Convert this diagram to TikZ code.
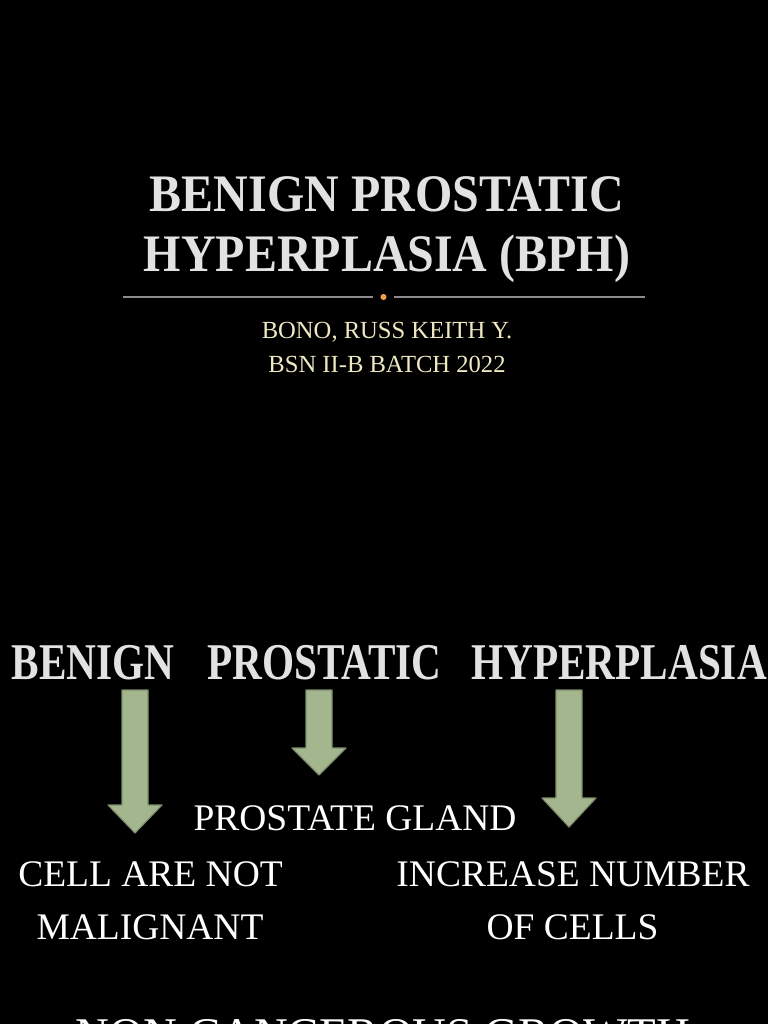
\documentclass[tikz,border=0pt]{standalone}
\usepackage{fontspec}
\setmainfont{Liberation Serif}
\newfontfamily\titlefont[FakeStretch=0.91]{Liberation Serif}
\newfontfamily\wordfont[FakeStretch=0.8]{Liberation Serif}
\definecolor{titlegray}{HTML}{E2E2E2}
\definecolor{namecream}{HTML}{EEE9C2}
\definecolor{rulegray}{HTML}{8C8C8C}
\definecolor{dotorange}{HTML}{F0A04A}
\definecolor{arrowgreen}{HTML}{A3B68E}
\definecolor{arrowedge}{HTML}{7C8E6C}
\tikzset{
  titletext/.style={anchor=base,inner sep=0pt,text=titlegray,
    font=\titlefont\bfseries\fontsize{45}{54}\selectfont},
  authortext/.style={anchor=base,inner sep=0pt,text=namecream,
    font=\fontsize{21}{25}\selectfont},
  wordtext/.style={anchor=base,inner sep=0pt,text=titlegray,
    font=\wordfont\bfseries\fontsize{44}{52}\selectfont},
  meaningtext/.style={anchor=base,inner sep=0pt,text=white,
    font=\fontsize{32}{38}\selectfont},
  bigarrow/.style={fill=arrowgreen,draw=arrowedge,line width=1pt,line join=round}
}
\begin{document}
\begin{tikzpicture}[x=0.03cm,y=-0.03cm]
    \clip (0,0) rectangle (768,1024);
    \fill[black] (0,0) rectangle (768,1024);

    % title block
    \node[titletext] (titleA) at (387,211) {BENIGN PROSTATIC};
    \node[titletext] (titleB) at (387,271) {HYPERPLASIA (BPH)};
    \draw[rulegray,line width=1pt] (123,297) -- (373,297);
    \draw[rulegray,line width=1pt] (394,297) -- (645,297);
    \fill[dotorange] (383.5,297) circle[radius=2.6pt];
    \node[authortext] (author) at (387,338) {BONO, RUSS KEITH Y.};
    \node[authortext] (batch) at (387,372) {BSN II-B BATCH 2022};

    % the three words
    \node[wordtext] (benign) at (93,679) {BENIGN};
    \node[wordtext] (prostatic) at (324.5,679) {PROSTATIC};
    \node[wordtext] (hyper) at (619,679) {HYPERPLASIA};

    % arrows: centre / head start / tip
    \foreach \cx/\hs/\tip in {135/805/833, 319/748/775, 569/798/827}
      \filldraw[bigarrow] ({\cx-13},690) -- ({\cx+13},690) -- ({\cx+13},\hs)
        -- ({\cx+27},\hs) -- (\cx,\tip) -- ({\cx-27},\hs) -- ({\cx-13},\hs) -- cycle;

    \node[meaningtext] (gland) at (355,830) {PROSTATE GLAND};
    \node[meaningtext] (notA) at (150.5,886) {CELL ARE NOT};
    \node[meaningtext] (notB) at (150,939) {MALIGNANT};
    \node[meaningtext] (cellsA) at (573,886) {INCREASE NUMBER};
    \node[meaningtext] (cellsB) at (572.5,939) {OF CELLS};
    \node[meaningtext,font=\fontsize{40}{48}\selectfont] (growth) at (383,1050) {NON CANCEROUS GROWTH};
\end{tikzpicture}
\end{document}
